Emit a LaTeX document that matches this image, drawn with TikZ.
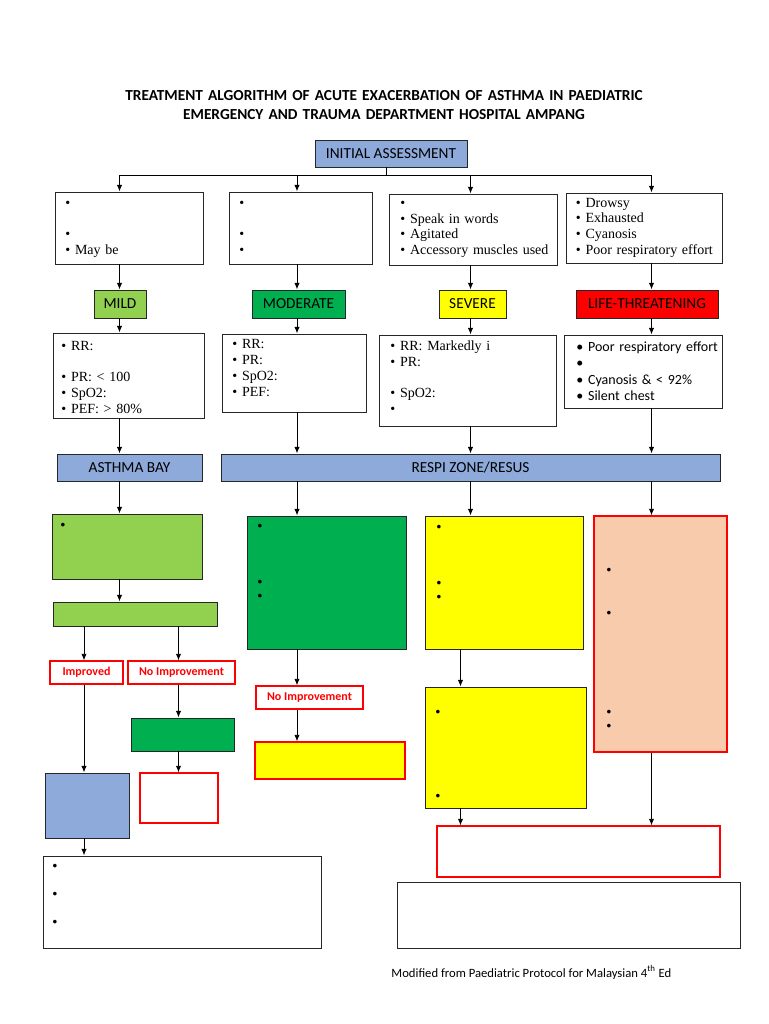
\documentclass[tikz,border=0pt]{standalone}
\usepackage{fontspec}
\setmainfont{Liberation Serif}
\newfontfamily\calibri{Carlito}
\newfontfamily\dotfont{Liberation Sans}
\usepackage{xcolor}
\usetikzlibrary{fit,arrows.meta}

\definecolor{boxblue}{RGB}{142,170,219}
\definecolor{mildgreen}{RGB}{146,208,80}
\definecolor{modgreen}{RGB}{0,176,80}
\definecolor{sevyellow}{RGB}{255,255,0}
\definecolor{lifered}{RGB}{255,0,0}
\definecolor{peach}{RGB}{248,203,173}
\newcommand\pxu{0.75pt}

\begin{document}
\begin{tikzpicture}[x=0.75pt, y=-0.75pt, >={Latex[length=5pt,width=4pt]}, line width=0.7pt,
  box/.style={draw=black!85, inner sep=0pt, fill=white},
  hdr/.style={box, fill=boxblue, font=\calibri\fontsize{11.5}{13}\selectfont},
  sev/.style={box, font=\calibri\fontsize{11.5}{13}\selectfont},
  redbox/.style={draw=red, line width=0.8pt, inner sep=0pt, fill=white},
  redlbl/.style={redbox, text=red, font=\calibri\bfseries\fontsize{9}{10}\selectfont},
  itemtxt/.style={anchor=base west, inner sep=0pt, text width=4.5cm, align=left, font=\fontsize{10.5}{11.75}\selectfont},
  bulletdot/.style={inner sep=0pt, font=\dotfont\fontsize{10}{10}\selectfont}]

\useasboundingbox (0,0) rectangle (768,1024);
\fill[white] (0,0) rectangle (768,1024);

\node[anchor=base, inner sep=0pt, text width=480pt, align=center, font=\calibri\bfseries\fontsize{11.5}{14.6}\selectfont] (title) at (384,100.5) {TREATMENT ALGORITHM OF ACUTE EXACERBATION OF ASTHMA IN PAEDIATRIC\\ EMERGENCY AND TRAUMA DEPARTMENT HOSPITAL AMPANG};

\node[hdr, minimum width=152*\pxu, minimum height=27*\pxu] (init) at (391,153.5) {INITIAL ASSESSMENT};

\coordinate (bus) at (386,175);
\coordinate (col1) at (119.5,0);
\coordinate (col2) at (297,0);
\coordinate (col3) at (470.5,0);
\coordinate (col4) at (651.5,0);
\coordinate (m1) at (84,0);
\coordinate (m2) at (178.5,0);
\coordinate (s3) at (460.5,0);

\node[box, fit={(55,192) (203,264)}] (sympA) {};
\node[box, fit={(229,192) (372,264)}] (sympB) {};
\node[box, fit={(389,194) (557,265)}] (sympC) {};
\node[box, fit={(566,193) (722,263)}] (sympD) {};
\node[itemtxt] (sympAtxt) at (65,207) {\textbullet\\ \mbox{}\\ \textbullet\\ \textbullet{} May be};
\node[itemtxt] (sympBtxt) at (239,207) {\textbullet\\ \mbox{}\\ \textbullet\\ \textbullet};
\node[itemtxt] (sympCtxt) at (400,207.5) {\textbullet\\ \textbullet{} Speak in words\\ \textbullet{} Agitated\\ \textbullet{} Accessory muscles used};
\node[itemtxt] (sympDtxt) at (575.5,207) {\textbullet{} Drowsy\\ \textbullet{} Exhausted\\ \textbullet{} Cyanosis\\ \textbullet{} Poor respiratory effort};

\node[sev, fill=mildgreen, minimum width=52*\pxu, minimum height=28*\pxu] (mild) at (120,304) {MILD};
\node[sev, fill=modgreen, minimum width=93*\pxu, minimum height=28*\pxu] (moderate) at (298.5,304) {MODERATE};
\node[sev, fill=sevyellow, minimum width=67*\pxu, minimum height=28*\pxu] (severe) at (472.5,304) {SEVERE};
\node[sev, fill=lifered, minimum width=142*\pxu, minimum height=28*\pxu] (life) at (647,304) {LIFE-THREATENING};

\node[box, fit={(53,333) (204,418)}] (signA) {};
\node[box, fit={(222,334) (366,412)}] (signB) {};
\node[box, fit={(379,335) (556,426)}] (signC) {};
\node[box, fit={(564,335) (722,408)}] (signD) {};
\node[itemtxt] (signAtxt) at (61,350.5) {\textbullet{} RR:\\ \mbox{}\\ \textbullet{} PR: < 100\\ \textbullet{} SpO2:\\ \textbullet{} PEF: > 80\%};
\node[itemtxt, font=\fontsize{10.5}{12}\selectfont] (signBtxt) at (232,348.5) {\textbullet{} RR:\\ \textbullet{} PR:\\ \textbullet{} SpO2:\\ \textbullet{} PEF:};
\node[itemtxt] (signCtxt) at (390,350.5) {\textbullet{} RR: Markedly i\\ \textbullet{} PR:\\ \mbox{}\\ \textbullet{} SpO2:\\ \textbullet};
\node[itemtxt, font=\calibri\fontsize{10.5}{12.2}\selectfont] (signDtxt) at (576,351.5) {\textbullet{} Poor respiratory effort\\ \textbullet\\ \textbullet{} Cyanosis \& < 92\%\\ \textbullet{} Silent chest};

\node[hdr, minimum width=145*\pxu, minimum height=27*\pxu] (bay) at (129.5,467.5) {ASTHMA BAY};
\node[hdr, minimum width=499*\pxu, minimum height=27*\pxu] (respi) at (470.5,467.5) {RESPI ZONE/RESUS};

\node[box, fill=mildgreen, fit={(52,514) (202,579)}] (treatA) {};
\node[box, fill=modgreen, fit={(247,516) (406,649)}] (treatB) {};
\node[box, fill=sevyellow, fit={(425,516) (583,649)}] (treatC) {};
\node[redbox, fill=peach, fit={(594,516) (727,752)}] (treatD) {};

\node[box, fill=mildgreen, fit={(53,602) (217,626)}] (mildbar) {};
\node[redlbl, minimum width=73*\pxu, minimum height=23*\pxu] (improved) at (86.5,672.5) {Improved};
\node[redlbl, minimum width=107*\pxu, minimum height=23*\pxu] (noimpA) at (181.5,672.5) {No Improvement};
\node[box, fill=modgreen, fit={(131,718) (234,751)}] (stepup) {};
\node[redbox, fit={(140,773) (218,823)}] (review) {};
\node[box, fill=boxblue, fit={(45,773) (129,838)}] (discharge) {};
\node[box, fit={(43,856) (321,948)}] (advice) {};

\node[redlbl, minimum width=107*\pxu, minimum height=23*\pxu] (noimpB) at (309.5,697.5) {No Improvement};
\node[redbox, fill=sevyellow, fit={(255,742) (405,779)}] (escalate) {};

\node[box, fill=sevyellow, fit={(425,687) (586,808)}] (sevnext) {};
\node[redbox, fit={(437,826) (720,877)}] (refer) {};
\node[box, fit={(397,882) (740,948)}] (notes) {};

\foreach \x/\y [count=\i] in {63/526, 260/527, 260/583, 260/597, 439/528, 439/584, 439/598, 609/571, 609/614, 609/713, 609/727, 438/713, 438/797, 55/867, 55/895, 55/923}
  \node[bulletdot] (dot\i) at (\x,\y) {\textbullet};

\node[anchor=base west, inner sep=0pt, font=\calibri\fontsize{9.5}{11}\selectfont] (source) at (391,977) {Modified from Paediatric Protocol for Malaysian 4\textsuperscript{th} Ed};

\draw (init.south -| bus) -- (bus);
\draw[->] (bus) -| (sympA.north -| col1);
\draw[->] (bus) -| (sympB.north -| col2);
\draw[->] (bus) -| (sympC.north -| col3);
\draw[->] (bus) -| (sympD.north -| col4);

\draw[->] (sympA.south -| col1) -- (mild.north -| col1);
\draw[->] (sympB.south -| col2) -- (moderate.north -| col2);
\draw[->] (sympC.south -| col3) -- (severe.north -| col3);
\draw[->] (sympD.south -| col4) -- (life.north -| col4);

\draw[->] (mild.south -| col1) -- (signA.north -| col1);
\draw[->] (moderate.south -| col2) -- (signB.north -| col2);
\draw[->] (severe.south -| col3) -- (signC.north -| col3);
\draw[->] (life.south -| col4) -- (signD.north -| col4);

\draw[->] (signA.south -| col1) -- (bay.north -| col1);
\draw[->] (signB.south -| col2) -- (respi.north -| col2);
\draw[->] (signC.south -| col3) -- (respi.north -| col3);
\draw[->] (signD.south -| col4) -- (respi.north -| col4);

\draw[->] (bay.south -| col1) -- (treatA.north -| col1);
\draw[->] (respi.south -| col2) -- (treatB.north -| col2);
\draw[->] (respi.south -| col3) -- (treatC.north -| col3);
\draw[->] (respi.south -| col4) -- (treatD.north -| col4);

\draw[->] (treatA.south -| col1) -- (mildbar.north -| col1);
\draw[->] (mildbar.south -| m1) -- (improved.north -| m1);
\draw[->] (mildbar.south -| m2) -- (noimpA.north -| m2);
\draw[->] (improved.south -| m1) -- (discharge.north -| m1);
\draw[->] (noimpA.south -| m2) -- (stepup.north -| m2);
\draw[->] (stepup.south -| m2) -- (review.north -| m2);
\draw[->] (discharge.south -| m1) -- (advice.north -| m1);

\draw[->] (treatB.south -| col2) -- (noimpB.north -| col2);
\draw[->] (noimpB.south -| col2) -- (escalate.north -| col2);

\draw[->] (treatC.south -| s3) -- (sevnext.north -| s3);
\draw[->] (sevnext.south -| s3) -- (refer.north -| s3);
\draw[->] (treatD.south -| col4) -- (refer.north -| col4);

\end{tikzpicture}
\end{document}
